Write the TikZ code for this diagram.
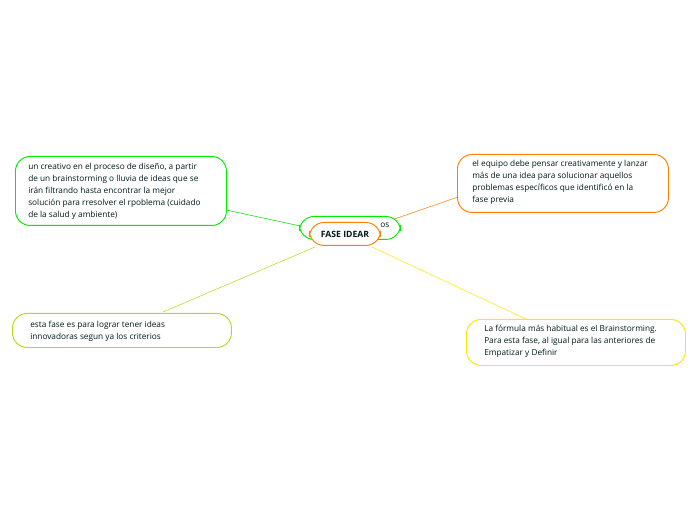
\documentclass[tikz,border=0pt]{standalone}
\usepackage{fontspec}
\setmainfont{Open Sans}
\begin{document}
\begin{tikzpicture}[x=0.75pt,y=-0.75pt,
 box/.style={draw,rounded corners=11pt,line width=0.7pt,fill=white},
 txt/.style={text=black!80!teal,font=\fontsize{6.2}{9}\selectfont,align=left,anchor=north west,inner sep=0pt}]
\useasboundingbox (0,0) rectangle (696,520);
\draw[green!80!black!60!green] (226,210) -- (305,227);
\draw[orange] (380,224) -- (458,197);
\draw[yellow!70!green] (315,247) -- (163,312);
\draw[yellow!90!orange] (372,247) -- (528,320);
\node[box,draw=green!85!black!50!green,minimum width=101pt*0.75,minimum height=23pt*0.75,anchor=north west,inner sep=0pt] (bg) at (299,216) {};
\node[txt] at (380,223) {os};
\node[box,draw=orange,minimum width=71*0.75pt,minimum height=23*0.75pt,anchor=north west,inner sep=0pt] (c) at (309,222) {};
\node[font=\fontsize{6.5}{8}\selectfont\bfseries,text=black!80!teal] at (c.center) {FASE IDEAR};
\node[box,draw=green!85!black!50!green,minimum width=211*0.75pt,minimum height=69*0.75pt,anchor=north west] (a) at (15,156) {};
\node[txt] at (28,163) {un creativo en el proceso de diseño, a partir\\de un brainstorming o lluvia de ideas que se\\irán filtrando hasta encontrar la mejor\\solución para rresolver el rpoblema (cuidado\\de la salud y ambiente)};
\node[box,draw=orange,minimum width=211*0.75pt,minimum height=58*0.75pt,anchor=north west] (b) at (457,154) {};
\node[txt] at (472,160) {el equipo debe pensar creativamente y lanzar\\más de una idea para solucionar aquellos\\problemas específicos que identificó en la\\fase previa};
\node[box,draw=yellow!70!green,minimum width=219*0.75pt,minimum height=34*0.75pt,anchor=north west] (d) at (12,313) {};
\node[txt] at (30,321) {esta fase es para lograr tener ideas\\innovadoras segun ya los criterios};
\node[box,draw=yellow!90!orange,minimum width=219*0.75pt,minimum height=46*0.75pt,anchor=north west] (e) at (466,319) {};
\node[txt] at (484,325) {La fórmula más habitual es el Brainstorming.\\Para esta fase, al igual para las anteriores de\\Empatizar y Definir};
\end{tikzpicture}
\end{document}
